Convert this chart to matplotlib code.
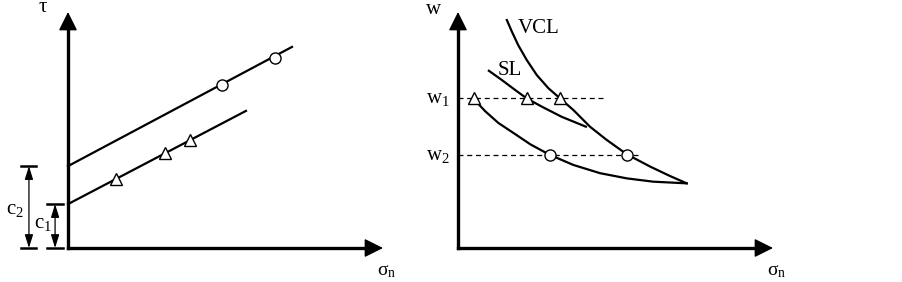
import matplotlib
matplotlib.use("Agg")
import matplotlib.pyplot as plt

plt.rcParams['font.family'] = ['Liberation Serif', 'DejaVu Serif']
plt.rcParams['mathtext.fontset'] = 'custom'
plt.rcParams['mathtext.rm'] = 'Liberation Serif'
plt.rcParams['mathtext.it'] = 'Liberation Serif:italic'

# --- left panel: strength envelopes (schematic units, axes run 0..10) ---
c1 = 1.86
c2 = 3.47
upper_x = [0, 7.11]
upper_y = [3.47, 8.52]
lower_x = [0, 5.65]
lower_y = [1.86, 5.81]
circle_x = [4.89, 6.57]
circle_y = [6.89, 8.07]
tri_x = [1.52, 3.08, 3.87]
tri_y = [2.92, 4.02, 4.57]

# --- right panel: w vs sigma_n ---
vcl_x = [1.55, 1.71, 1.91, 2.18, 2.50, 2.87, 3.24, 3.66, 4.19, 4.72, 5.36, 6.10, 6.73, 7.26]
vcl_y = [9.66, 9.17, 8.60, 7.97, 7.33, 6.77, 6.34, 5.85, 5.14, 4.58, 3.97, 3.45, 3.05, 2.74]
sl_x = [0.98, 1.39, 1.81, 2.18, 2.66, 3.29, 4.06]
sl_y = [7.51, 7.12, 6.70, 6.34, 5.99, 5.56, 5.14]
low_x = [0.51, 0.86, 1.28, 1.81, 2.30, 2.91, 3.66, 4.51, 5.36, 6.20, 7.26]
low_y = [6.30, 5.80, 5.30, 4.83, 4.39, 3.95, 3.52, 3.17, 2.95, 2.81, 2.74]
w1 = 6.34
w2 = 3.94
w1_end = 4.6
w2_end = 5.75
w1_pts = [0.51, 2.18, 3.24]
w2_pts = [2.91, 5.36]

W, H = 903, 282
PX_X, PX_Y = 31.5, 23.6
fig = plt.figure(figsize=(W / 100, H / 100), dpi=100)


def make_axes(ox, oy=248):
    ax = fig.add_axes([0, 0, 1, 1])
    ax.set_xlim(-ox / PX_X, (W - ox) / PX_X)
    ax.set_ylim((oy - H) / PX_Y, oy / PX_Y)
    ax.axis('off')
    ax.patch.set_alpha(0)
    return ax


def draw_frame(ax):
    ax.plot([0, 0], [0, 9.4], color='black', lw=2.4, solid_capstyle='projecting')
    ax.plot([0, 9.5], [0, 0], color='black', lw=2.4, solid_capstyle='projecting')
    for tip, start in [((0, 10.0), (0, 9.0)), ((10.0, 0), (9.0, 0))]:
        ax.annotate('', xy=tip, xytext=start,
                    arrowprops=dict(arrowstyle='-|>,head_length=0.58,head_width=0.29',
                                    mutation_scale=20, color='black', lw=1,
                                    shrinkA=0, shrinkB=0))


tri_kw = dict(marker='^', ms=8, mfc='white', mec='black', mew=1, ls='none', zorder=5)
circ_kw = dict(marker='o', ms=8, mfc='white', mec='black', mew=1, ls='none', zorder=5)
curve_kw = dict(color='black', lw=1.6, solid_joinstyle='round')

# left panel
axl = make_axes(68)
draw_frame(axl)
axl.plot(upper_x, upper_y, **curve_kw)
axl.plot(lower_x, lower_y, **curve_kw)
axl.plot(circle_x, circle_y, **circ_kw)
axl.plot(tri_x, tri_y, **tri_kw)

for xv, cval, half in [(-1.24, c2, 0.24), (-0.41, c1, 0.25)]:
    axl.annotate('', xy=(xv, cval), xytext=(xv, 0),
                 arrowprops=dict(arrowstyle='<|-|>,head_length=0.8,head_width=0.25',
                                 mutation_scale=10, color='black', lw=0.9,
                                 shrinkA=0, shrinkB=0))
    axl.plot([xv - half, xv + half], [cval, cval], color='black', lw=1.8)
    axl.plot([xv - half, xv + half], [0, 0], color='black', lw=1.8)

axl.text(-1.68, 1.65, r'c$_2$', fontsize=15, ha='center', va='center')
axl.text(-0.78, 1.02, r'c$_1$', fontsize=15, ha='center', va='center')
axl.text(-0.79, 9.98, 'τ', fontsize=15, ha='center', va='baseline')
axl.text(10.13, -0.97, r'σ$_\mathrm{n}$', fontsize=14, ha='center', va='center')

# right panel
axr = make_axes(458)
draw_frame(axr)
axr.plot([0, w1_end], [w1, w1], color='black', lw=0.9, ls=(0, (4, 3)))
axr.plot([0, w2_end], [w2, w2], color='black', lw=0.9, ls=(0, (4, 3)))
axr.plot(vcl_x, vcl_y, **curve_kw)
axr.plot(sl_x, sl_y, **curve_kw)
axr.plot(low_x, low_y, **curve_kw)
axr.plot(w1_pts, [w1] * len(w1_pts), **tri_kw)
axr.plot(w2_pts, [w2] * len(w2_pts), **circ_kw)

axr.text(-0.25, w1, r'w$_1$', fontsize=15, ha='right', va='center')
axr.text(-0.25, w2, r'w$_2$', fontsize=15, ha='right', va='center')
axr.text(-0.79, 9.90, 'w', fontsize=15, ha='center', va='baseline')
axr.text(10.13, -0.97, r'σ$_\mathrm{n}$', fontsize=14, ha='center', va='center')
axr.text(2.57, 9.32, 'VCL', fontsize=15, ha='center', va='center')
axr.text(1.65, 7.54, 'SL', fontsize=15, ha='center', va='center')

fig.savefig('out.png', dpi=100)
